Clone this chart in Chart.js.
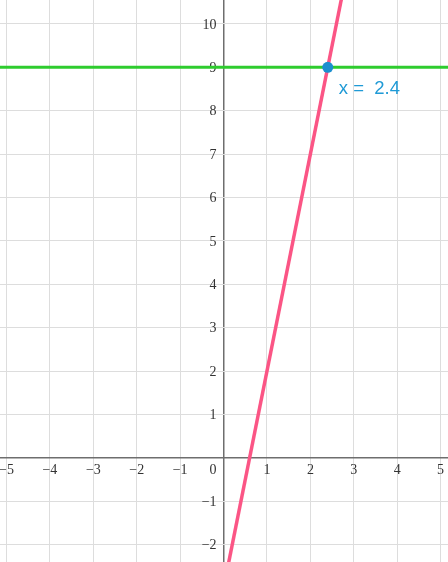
<!DOCTYPE html>
<html>
<head>
<meta charset="utf-8">
<script src="https://cdn.jsdelivr.net/npm/chart.js@4.4.1/dist/chart.umd.min.js"></script>
<style>
  html, body { margin: 0; padding: 0; background: #fff; overflow: hidden; }
  #wrap { width: 448px; height: 562px; }
</style>
</head>
<body>
<div id="wrap"><canvas id="myChart"></canvas></div>
<script>
// visible window
const xRange = [-5.15, 5.17];
const yRange = [-2.4, 10.55];

// tick labels
const xTicks = [-5, -4, -3, -2, -1, 1, 2, 3, 4, 5];
const yTicks = [-2, -1, 1, 2, 3, 4, 5, 6, 7, 8, 9, 10];

// y = 5x - 3, given by two points
const lineX = [-1, 3];
const lineY = [-8, 12];

// y = 9
const flatX = [-6, 6];
const flatY = [9, 9];

// intersection
const hitX = [2.4];
const hitY = [9];
const hitLabel = 'x =  2.4';

const toPts = (xs, ys) => xs.map((x, i) => ({ x: x, y: ys[i] }));
const fmt = v => (v < 0 ? '\u2212' + Math.abs(v) : String(v));

const axisLabels = {
  id: 'axisLabels',
  beforeDatasetsDraw(chart) {
    const { ctx, scales: { x, y } } = chart;
    const ox = x.getPixelForValue(0);
    const oy = y.getPixelForValue(0);
    ctx.save();
    ctx.font = '14px "Liberation Serif", "DejaVu Serif", serif';
    ctx.fillStyle = '#333';
    ctx.textAlign = 'center';
    ctx.textBaseline = 'top';
    xTicks.forEach(v => {
      ctx.fillText(fmt(v), x.getPixelForValue(v), oy + 5);
    });
    ctx.textAlign = 'right';
    ctx.textBaseline = 'middle';
    yTicks.forEach(v => {
      ctx.fillText(fmt(v), ox - 7, y.getPixelForValue(v) + 1);
    });
    ctx.textBaseline = 'top';
    ctx.fillText('0', ox - 7, oy + 5);
    ctx.restore();
  },
  afterDatasetsDraw(chart) {
    const { ctx, scales: { x, y } } = chart;
    ctx.save();
    ctx.font = '18.5px "Liberation Sans", Arial, sans-serif';
    ctx.fillStyle = '#1f9ad6';
    ctx.textAlign = 'left';
    ctx.textBaseline = 'middle';
    ctx.fillText(hitLabel, x.getPixelForValue(hitX[0]) + 11, y.getPixelForValue(hitY[0]) + 22);
    ctx.restore();
  }
};

const gridColor = ctx => (ctx.tick && ctx.tick.value === 0 ? '#6e6e6e' : '#dddddd');
const gridWidth = ctx => (ctx.tick && ctx.tick.value === 0 ? 1.5 : 1);

new Chart(document.getElementById('myChart'), {
  type: 'scatter',
  data: {
    datasets: [
      {
        data: toPts(flatX, flatY),
        showLine: true,
        borderColor: '#2ecc2e',
        borderWidth: 3,
        pointRadius: 0,
        order: 3
      },
      {
        data: toPts(lineX, lineY),
        showLine: true,
        borderColor: '#fb5585',
        borderWidth: 3.5,
        pointRadius: 0,
        order: 2
      },
      {
        data: toPts(hitX, hitY),
        pointRadius: 5.5,
        pointBackgroundColor: '#1b8fcf',
        pointBorderWidth: 0,
        order: 1
      }
    ]
  },
  options: {
    responsive: true,
    maintainAspectRatio: false,
    animation: false,
    layout: { padding: 0, autoPadding: false },
    plugins: { legend: { display: false }, tooltip: { enabled: false } },
    scales: {
      x: {
        type: 'linear',
        min: xRange[0],
        max: xRange[1],
        afterFit: s => { s.height = 0; s.paddingLeft = 0; s.paddingRight = 0; },
        ticks: { display: false, stepSize: 1, includeBounds: false, padding: 0 },
        grid: { color: gridColor, lineWidth: gridWidth, drawTicks: false, tickLength: 0 },
        border: { display: false }
      },
      y: {
        type: 'linear',
        min: yRange[0],
        max: yRange[1],
        afterFit: s => { s.width = 0; s.paddingTop = 0; s.paddingBottom = 0; },
        ticks: { display: false, stepSize: 1, includeBounds: false, padding: 0 },
        grid: { color: gridColor, lineWidth: gridWidth, drawTicks: false, tickLength: 0 },
        border: { display: false }
      }
    }
  },
  plugins: [axisLabels]
});
</script>
</body>
</html>
